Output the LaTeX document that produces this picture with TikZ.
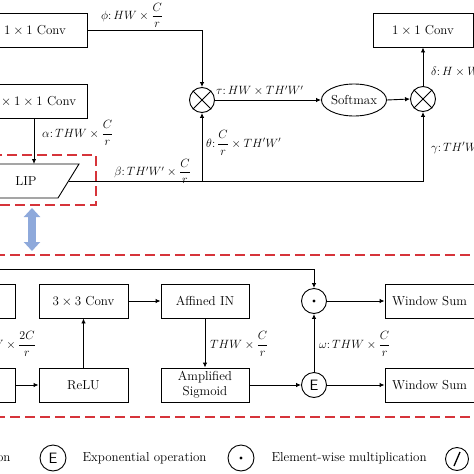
\RequirePackage{fix-cm}
\documentclass[tikz,border=0pt]{standalone}
\usepackage{amsmath}
\usetikzlibrary{positioning,arrows.meta,shapes.geometric}

\definecolor{dashred}{RGB}{214,52,58}
\definecolor{arrowblue}{RGB}{142,169,219}

\begin{document}
\begin{tikzpicture}[x=1pt,y=-1pt,
    every node/.style={font=\fontsize{13}{15}\selectfont},
    box/.style={draw,rectangle,line width=0.9pt,minimum height=34pt,align=center,inner sep=0pt},
    op/.style={draw,circle,line width=0.9pt,minimum size=25pt,inner sep=0pt,font=\fontsize{15}{15}\sffamily},
    lab/.style={inner sep=1pt,font=\fontsize{12}{14}\selectfont},
    plain/.style={line width=0.9pt},
    link/.style={line width=0.9pt,-{Latex[length=5pt,width=4.5pt]}},
    reddash/.style={draw=dashred,line width=1.3pt,dash pattern=on 10pt off 5pt},
    bigarrow/.style={draw=arrowblue,line width=8pt,
        {Triangle[length=9pt,width=16pt]}-{Triangle[length=9pt,width=16pt]}}]

\useasboundingbox (0,0) rectangle (474,474);
\clip (0,0) rectangle (474,474);

% upper part
\node[box,minimum width=104pt] (phiconv) at (35,30) {$1\times1$ Conv};
\node[box,minimum width=106pt] (thetaconv) at (34,101) {$1\times1\times1$ Conv};
\node[box,minimum width=100pt] (outconv) at (423,30) {$1\times1$ Conv};
\node[op] (mulA) at (202,100) {};
\node[draw,ellipse,line width=0.9pt,minimum width=63pt,minimum height=32pt,inner sep=0pt] (softmax) at (354,100) {Softmax};
\node[op] (mulB) at (423,99) {};
\foreach \n in {mulA,mulB}
    \draw[plain] (\n.north east) -- (\n.south west) (\n.north west) -- (\n.south east);

\draw[plain] (-25,164) -- (79,164) -- (58,198) -- (-25,198);
\node (lip) at (26,181) {LIP};
\coordinate (lipin) at (34,164);
\coordinate (lipout) at (68.5,181);
\coordinate (split) at (mulA.south |- lipout);
\draw[reddash] (-25,155) rectangle (96,205);

\draw[link] (phiconv.east) -| (mulA.north);
\draw[link] (thetaconv.south) -- (lipin);
\draw[link] (lipout) -| (mulB.south);
\draw[link] (split) -- (mulA.south);
\draw[link] (mulA.east) -- (softmax.west);
\draw[link] (softmax.east) -- (mulB.west);
\draw[link] (mulB.north) -- (outconv.south);

\node[lab,anchor=south west] at (100,29) {$\phi{:}\,HW\times\dfrac{C}{r}$};
\node[lab,anchor=west] at (41,133) {$\alpha{:}\,THW\times\dfrac{C}{r}$};
\node[lab,anchor=south east] at (192,185) {$\beta{:}\,TH'W'\times\dfrac{C}{r}$};
\node[lab,anchor=west] at (205,143) {$\theta{:}\,\dfrac{C}{r}\times TH'W'$};
\node[lab,anchor=south west] at (215,97) {$\tau{:}\,HW\times TH'W'$};
\node[lab,anchor=west] at (430,72) {$\delta{:}\,H\times W\times C$};
\node[lab,anchor=west] at (430,147) {$\gamma{:}\,TH'W'\times\dfrac{C}{r}$};

\coordinate (liplink) at (32,208);
\coordinate (lowlink) at (32,251);
\draw[bigarrow] (liplink) -- (lowlink);

% lower part
\draw[reddash] (-5,255) -- (480,255);
\draw[reddash] (-5,417) -- (480,417);

\node[box,minimum width=95pt] (prevA) at (-32.5,301) {};
\node[box,minimum width=95pt] (prevB) at (-32.5,385) {};
\node[box,minimum width=89pt] (conv3) at (83.5,301) {$3\times3$ Conv};
\node[box,minimum width=89pt] (relu) at (83.5,385) {ReLU};
\node[box,minimum width=88pt] (affin) at (205,301) {Affined IN};
\node[box,minimum width=88pt] (ampsig) at (205,385) {Amplified\\Sigmoid};
\node[op] (emul) at (314,301) {};
\fill (emul) circle (1.7);
\node[op] (expo) at (314,385) {E};
\node[box,minimum width=89pt] (sumA) at (429.5,301) {Window Sum};
\node[box,minimum width=89pt] (sumB) at (429.5,385) {Window Sum};

\coordinate (feat) at (-5,269);
\draw[link] (feat) -| (emul.north);
\draw[link] (prevB.east) -- (relu.west);
\draw[link] (relu.north) -- (conv3.south);
\draw[link] (conv3.east) -- (affin.west);
\draw[link] (affin.south) -- (ampsig.north);
\draw[link] (ampsig.east) -- (expo.west);
\draw[link] (expo.north) -- (emul.south);
\draw[link] (emul.east) -- (sumA.west);
\draw[link] (expo.east) -- (sumB.west);

\node[lab,anchor=east] at (37,344) {$THW\times\dfrac{2C}{r}$};
\node[lab,anchor=west] at (209,344) {$THW\times\dfrac{C}{r}$};
\node[lab,anchor=west] at (318,344) {$\omega{:}\,THW\times\dfrac{C}{r}$};

% legend
\node[anchor=east] at (14,458) {Matrix multiplication};
\node[op,minimum size=26pt] (legE) at (53,458) {E};
\node[anchor=west] at (79,458) {Exponential operation};
\node[op,minimum size=26pt] (legdot) at (241,458) {};
\fill (legdot) circle (1.7);
\node[anchor=west] at (268,458) {Element-wise multiplication};
\node[op,minimum size=23pt] (legdiv) at (457,459) {};
\draw[line width=1.3pt] ([shift={(-3,7)}]legdiv.center) -- ([shift={(3,-7)}]legdiv.center);

\end{tikzpicture}
\end{document}
